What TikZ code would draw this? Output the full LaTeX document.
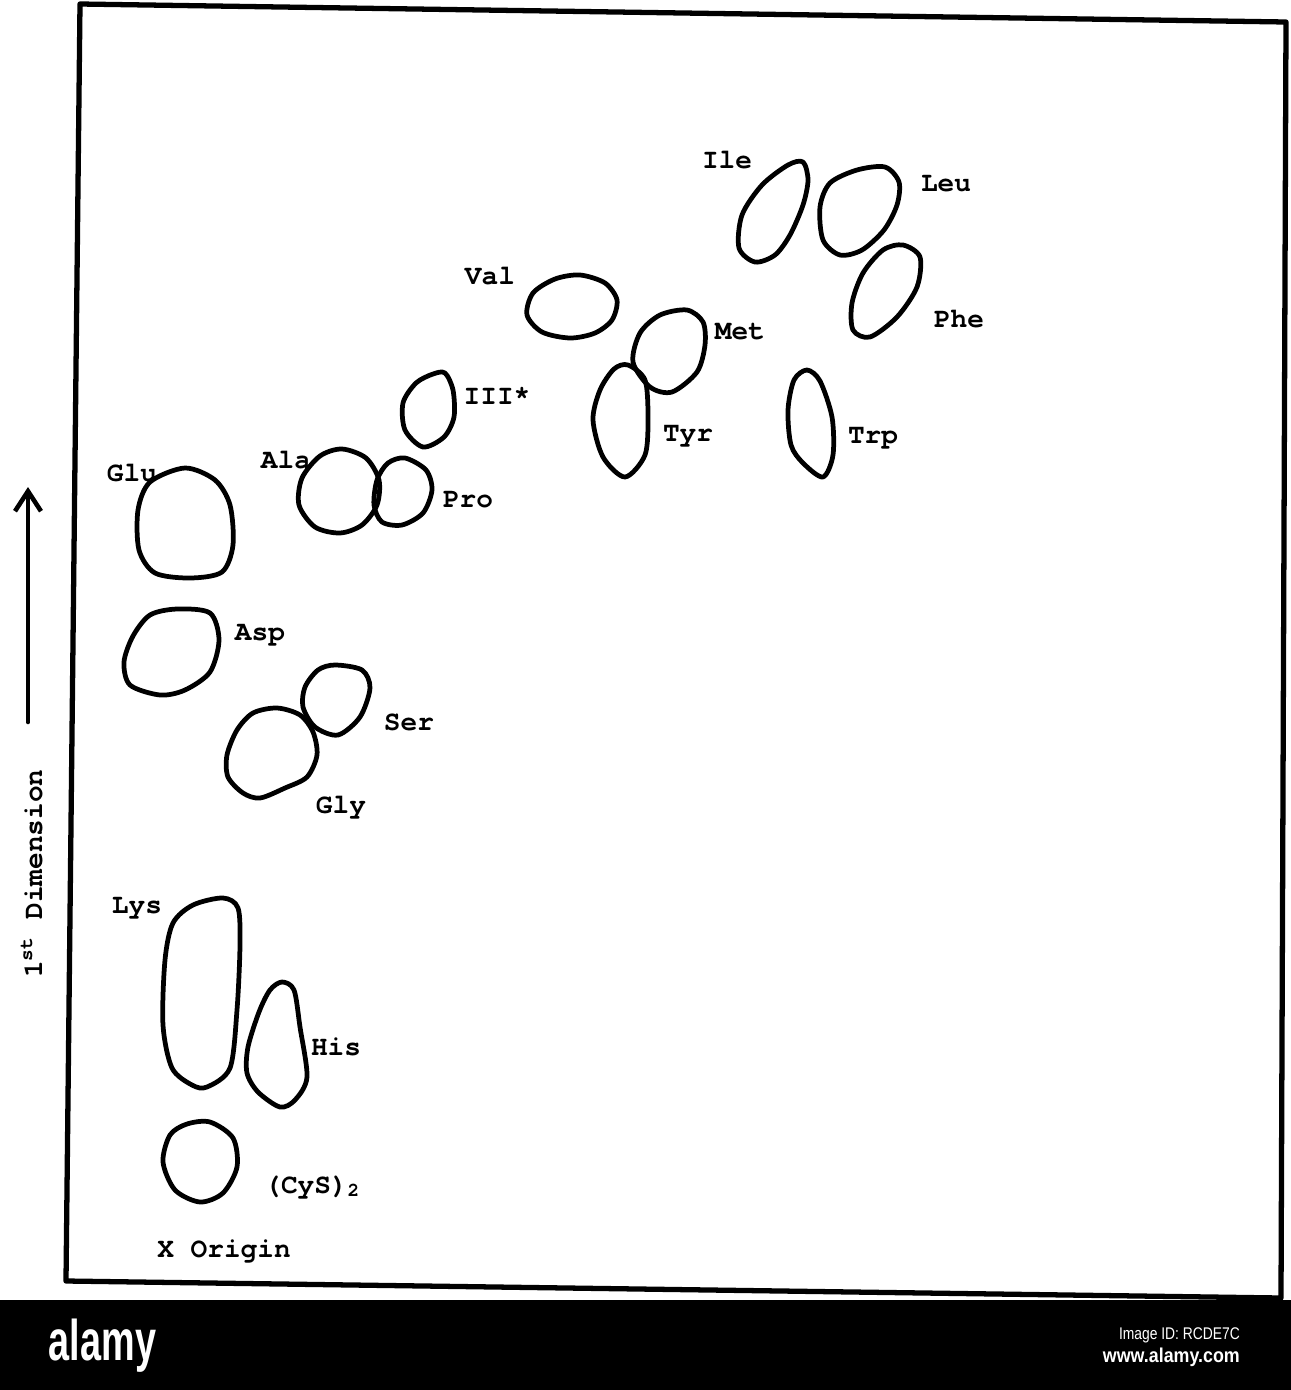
\documentclass[tikz,border=0pt]{standalone}
\usepackage{fontspec}
\setmonofont{texgyrecursor}[Extension=.otf,UprightFont=*-regular,BoldFont=*-bold]
\newfontfamily\bannerfont{Liberation Sans}
\usetikzlibrary{arrows.meta}
\begin{document}
\begin{tikzpicture}[x=0.01cm,y=-0.01cm,line join=round,line cap=round,thick]
	\tikzset{every node/.style={inner sep=0pt},
		acid/.style={font=\fontsize{7.9}{9}\selectfont\ttfamily\bfseries,anchor=base},
		spot/.style={line width=1.35pt},
		frame/.style={line width=1.5pt},
		axis/.style={line width=1.3pt,-{Straight Barb[length=0.2cm,width=0.26cm]}},
		banner/.style={text=white,anchor=base east}}
	\useasboundingbox (0,0) rectangle (1291,1390);
	% plate outline
	\coordinate (tl) at (80,4); \coordinate (tr) at (1286,22);
	\coordinate (br) at (1281,1298); \coordinate (bl) at (66,1281);
	\draw[frame] (tl)--(tr)--(br)--(bl)--cycle;
	% direction of the first run
	\coordinate (axisfoot) at (28,722); \coordinate (axishead) at (28,487);
	\draw[axis] (axisfoot)--(axishead);
	\node[acid,rotate=90,anchor=base east] (dimension) at (42,768) {1\textsuperscript{st} Dimension};
	% spots
	\draw[spot] plot[smooth cycle] coordinates {(803,162) (808,180) (803,205) (790,235) (775,255) (755,262) (739,248) (742,215) (762,185) (788,165)};
	\draw[spot] plot[smooth cycle] coordinates {(885,167) (899,182) (897,205) (884,230) (862,250) (840,255) (823,240) (820,207) (830,183) (857,170)};
	\draw[spot] plot[smooth cycle] coordinates {(903,245) (920,257) (917,287) (897,317) (870,337) (853,330) (852,303) (863,273) (883,250)};
	\draw[spot] plot[smooth cycle] coordinates {(580,275) (605,283) (617,300) (612,320) (595,333) (570,338) (542,332) (527,315) (533,293) (555,279)};
	\draw[spot] plot[smooth cycle] coordinates {(687,310) (703,322) (705,345) (697,372) (672,392) (650,387) (633,362) (640,333) (660,315)};
	\draw[spot] plot[smooth cycle] coordinates {(628,365) (645,380) (648,417) (645,455) (625,477) (603,457) (593,420) (600,390) (614,369)};
	\draw[spot] plot[smooth cycle] coordinates {(807,370) (820,381) (832,417) (833,455) (823,477) (803,463) (791,445) (788,410) (794,380)};
	\draw[spot] plot[smooth cycle] coordinates {(445,373) (453,390) (454,417) (444,437) (423,447) (405,430) (403,403) (416,383) (433,374)};
	\draw[spot] plot[smooth cycle] coordinates {(342,449) (366,458) (379,480) (377,505) (362,525) (340,533) (315,527) (299,505) (302,478) (320,456)};
	\draw[spot] plot[smooth cycle] coordinates {(405,458) (426,470) (432,490) (423,513) (402,525) (382,522) (374,505) (377,480) (388,463)};
	\draw[spot] plot[smooth cycle] coordinates {(185,468) (215,480) (230,505) (233,545) (222,572) (190,578) (155,573) (139,550) (138,510) (150,482)};
	\draw[spot] plot[smooth cycle] coordinates {(177,609) (210,613) (219,640) (210,672) (185,690) (160,695) (130,685) (124,662) (133,636) (150,615)};
	\draw[spot] plot[smooth cycle] coordinates {(335,665) (362,670) (370,688) (360,717) (338,735) (315,727) (303,707) (305,687) (318,670)};
	\draw[spot] plot[smooth cycle] coordinates {(277,708) (300,715) (313,732) (317,755) (307,777) (285,788) (260,798) (243,793) (228,777) (227,755) (237,730) (253,713)};
	\draw[spot] plot[smooth cycle] coordinates {(223,898) (238,908) (240,945) (237,1010) (230,1068) (207,1087) (192,1085) (172,1068) (163,1025) (165,960) (173,923) (193,905)};
	\draw[spot] plot[smooth cycle] coordinates {(282,982) (294,990) (300,1027) (307,1077) (295,1100) (280,1107) (258,1092) (247,1073) (248,1047) (259,1012) (270,990)};
	\draw[spot] plot[smooth cycle] coordinates {(210,1122) (233,1138) (237,1167) (223,1193) (200,1202) (175,1190) (163,1162) (170,1135) (187,1124)};
	% names of the spots
	\node[acid] (ile) at (727,168) {Ile};
	\node[acid] (leu) at (946,191) {Leu};
	\node[acid] (phe) at (959,327) {Phe};
	\node[acid] (val) at (490,284) {Val};
	\node[acid] (met) at (740,339) {Met};
	\node[acid] (tyr) at (688,441) {Tyr};
	\node[acid] (trp) at (873,443) {Trp};
	\node[acid] (iii) at (497,404) {III*};
	\node[acid] (ala) at (286,468) {Ala};
	\node[acid] (pro) at (468,507) {Pro};
	\node[acid] (glu) at (132,481) {Glu};
	\node[acid] (asp) at (260,640) {Asp};
	\node[acid] (ser) at (409,730) {Ser};
	\node[acid] (gly) at (341,813) {Gly};
	\node[acid] (lys) at (137,913) {Lys};
	\node[acid] (his) at (336,1055) {His};
	\node[acid,anchor=base west] (cys) at (263,1193) {(CyS)\textsubscript{2}};
	\node[acid] (origin) at (224,1257) {X Origin};
	% stock banner
	\fill[black] (0,1300) rectangle (1291,1390);
	\node[banner,anchor=base west,xscale=0.66,font=\bannerfont\bfseries\fontsize{16.3}{18}\selectfont] (logo) at (48,1360) {alamy};
	\node[banner,xscale=0.82,font=\bannerfont\fontsize{4.8}{6}\selectfont] (imageid) at (1241,1339) {Image ID: RCDE7C};
	\node[banner,xscale=0.89,font=\bannerfont\bfseries\fontsize{5.7}{7}\selectfont] (site) at (1241,1362) {www.alamy.com};
\end{tikzpicture}
\end{document}
